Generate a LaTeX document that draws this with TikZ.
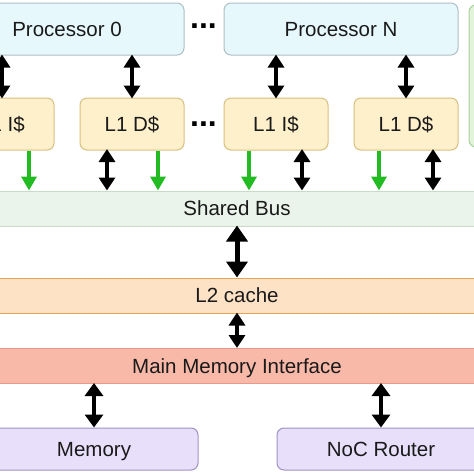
\documentclass[tikz,border=0pt]{standalone}
\usepackage{fontspec}
\setmainfont{Liberation Sans}
\usetikzlibrary{arrows.meta}
\definecolor{procfill}{HTML}{E6F8FC}
\definecolor{procdraw}{HTML}{AFC0C6}
\definecolor{cachefill}{HTML}{FFF0CC}
\definecolor{cachedraw}{HTML}{D8C07E}
\definecolor{busfill}{HTML}{EAF4EA}
\definecolor{busdraw}{HTML}{C6DCC6}
\definecolor{ltwofill}{HTML}{FDE2C6}
\definecolor{ltwodraw}{HTML}{E2A550}
\definecolor{mmifill}{HTML}{F9B9A9}
\definecolor{mmidraw}{HTML}{E59A8A}
\definecolor{memfill}{HTML}{E8E0FA}
\definecolor{memdraw}{HTML}{A192C4}
\definecolor{sidefill}{HTML}{E2F4DA}
\definecolor{sidedraw}{HTML}{A8D098}
\definecolor{arrgreen}{HTML}{22BB22}
\definecolor{txt}{HTML}{1A1A1A}
\tikzset{
  lbl/.style={font=\fontsize{20.5}{24}\selectfont, text=txt, text height=16.5pt, text depth=2pt},
  box/.style={lbl, rounded corners=7pt, line width=1pt, inner sep=0pt},
  procbox/.style={box, fill=procfill, draw=procdraw, minimum width=234pt, minimum height=52pt},
  cachebox/.style={box, fill=cachefill, draw=cachedraw, minimum width=104pt, minimum height=52pt},
  band/.style={lbl, line width=1pt, inner sep=0pt, minimum width=500pt, minimum height=35pt},
  membox/.style={box, fill=memfill, draw=memdraw, minimum width=208pt, minimum height=42pt},
  dbl/.style={line width=4pt, {Triangle[width=16pt,length=13pt]}-{Triangle[width=16pt,length=13pt]}},
  bigdbl/.style={line width=5pt, {Triangle[width=21pt,length=16pt]}-{Triangle[width=21pt,length=16pt]}},
  middbl/.style={line width=4.5pt, {Triangle[width=18pt,length=13pt]}-{Triangle[width=18pt,length=13pt]}},
  grn/.style={line width=4pt, draw=arrgreen, -{Triangle[width=15pt,length=14pt]}, arrgreen},
  dots/.style={font=\fontsize{32}{34}\selectfont\bfseries, anchor=base, inner sep=0pt}
}
\begin{document}
\begin{tikzpicture}[x=1pt,y=-1pt]
\useasboundingbox (0,0) rectangle (474,474);
\fill[white] (0,0) rectangle (474,474);
% side box
\node[box, fill=sidefill, draw=sidedraw, minimum width=60pt, minimum height=142pt] (side) at (499,76) {};
% processors
\node[procbox] (P0) at (67,29) {Processor 0};
\node[procbox] (PN) at (341,29) {Processor N};
\node[dots] (dotsA) at (203.5,28) {...};
% caches
\node[cachebox] (I0) at (2,124) {L1 I\$};
\node[cachebox] (D0) at (132,124) {L1 D\$};
\node[cachebox] (IN) at (276,124) {L1 I\$};
\node[cachebox] (DN) at (406,124) {L1 D\$};
\node[dots] (dotsB) at (203.5,126) {...};
% bands
\node[band, fill=busfill, draw=busdraw] (bus) at (237,208.5) {Shared Bus};
\node[band, fill=ltwofill, draw=ltwodraw] (ltwo) at (237,295.5) {L2 cache};
\node[band, fill=mmifill, draw=mmidraw] (mmi) at (237,366) {Main Memory Interface};
% memory
\node[membox] (mem) at (94,449) {Memory};
\node[membox] (noc) at (381,449) {NoC Router};
% processor to cache
\draw[dbl] ([yshift=1pt]I0.north |- P0.south) -- ([yshift=-1pt]I0.north);
\draw[dbl] ([yshift=1pt]D0.north |- P0.south) -- ([yshift=-1pt]D0.north);
\draw[dbl] ([yshift=1pt]IN.north |- PN.south) -- ([yshift=-1pt]IN.north);
\draw[dbl] ([yshift=1pt]DN.north |- PN.south) -- ([yshift=-1pt]DN.north);
% cache to bus
\draw[grn] ([xshift=27pt]I0.south) -- ([xshift=27pt]I0.south |- bus.north);
\draw[dbl] ([xshift=-25pt,yshift=1.5pt]D0.south) -- ([xshift=-25pt]D0.south |- bus.north);
\draw[grn] ([xshift=26pt]D0.south) -- ([xshift=26pt]D0.south |- bus.north);
\draw[grn] ([xshift=-27pt]IN.south) -- ([xshift=-27pt]IN.south |- bus.north);
\draw[dbl] ([xshift=26pt,yshift=1.5pt]IN.south) -- ([xshift=26pt]IN.south |- bus.north);
\draw[grn] ([xshift=-27pt]DN.south) -- ([xshift=-27pt]DN.south |- bus.north);
\draw[dbl] ([xshift=27pt,yshift=1.5pt]DN.south) -- ([xshift=27pt]DN.south |- bus.north);
% vertical chain
\draw[bigdbl] ([yshift=1pt]bus.south) -- (ltwo.north);
\draw[dbl] ([yshift=1pt]ltwo.south) -- (mmi.north);
\draw[middbl] ([yshift=1pt]mmi.south -| mem.north) -- (mem.north);
\draw[middbl] ([yshift=1pt]mmi.south -| noc.north) -- (noc.north);
\end{tikzpicture}
\end{document}
